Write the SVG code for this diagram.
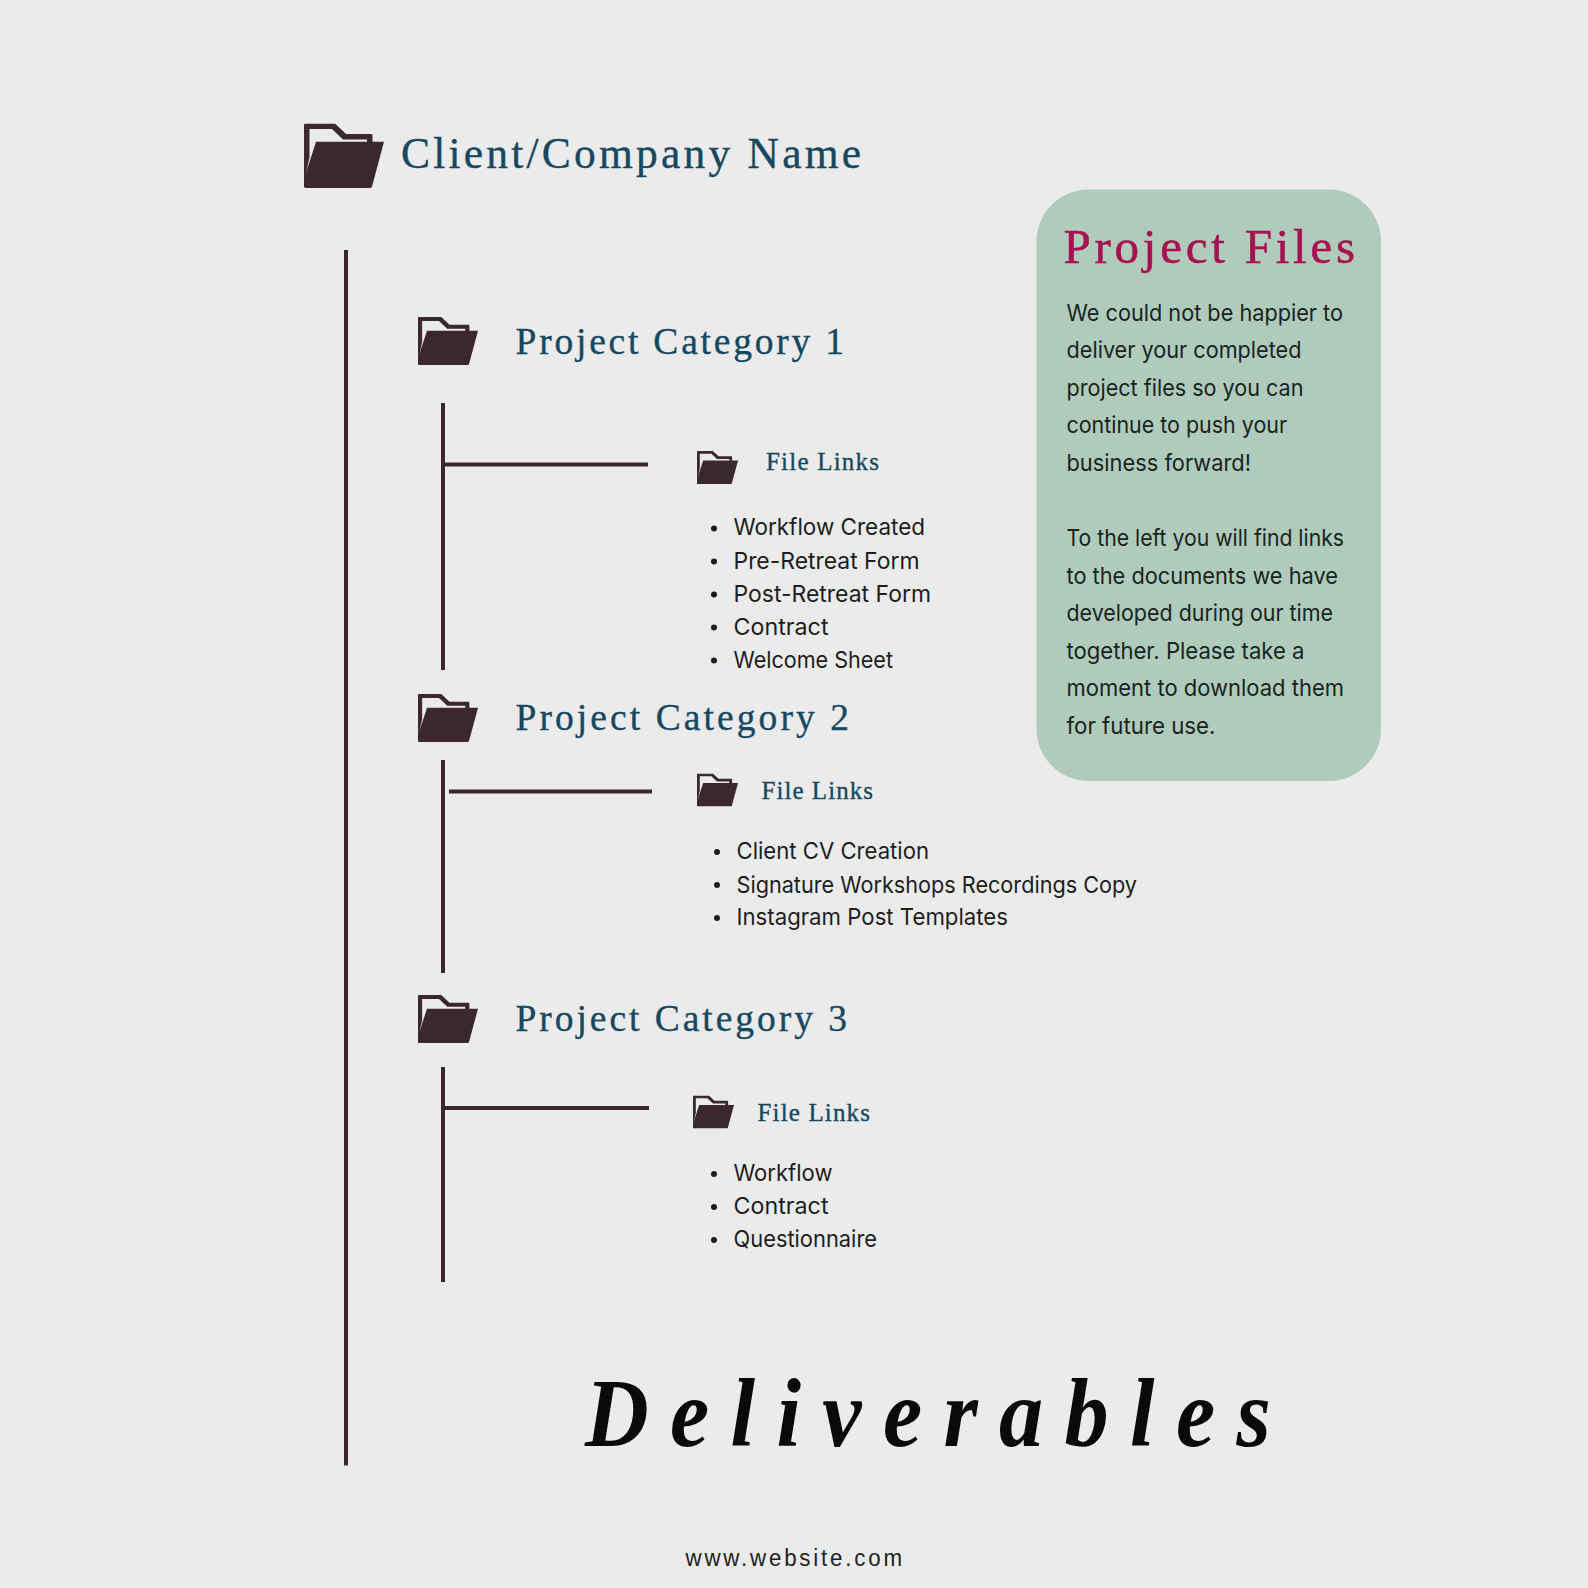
<svg xmlns="http://www.w3.org/2000/svg" width="1588" height="1588" viewBox="0 0 1588 1588">
<style>
.ln{stroke:#3a2730;stroke-width:4;fill:none}
.h{font-family:"Liberation Serif",serif;fill:#16485f;stroke:#16485f;stroke-width:.35}
.c{font-size:37.500px}
.f{font-size:25px}
.b{font-family:Inter,"Liberation Sans",sans-serif;font-size:23px;fill:#1d1d1d}
.p{font-family:Inter,"Liberation Sans",sans-serif;font-size:23px;fill:#17241f}
.d{fill:#1d1d1d}
</style>
<defs>
<symbol id="folder" viewBox="0 0 80 65" preserveAspectRatio="none">
<path fill="#3a2730" d="M0 1.500Q0 0 1.500 0H31L42 10.500H67Q68.500 10.500 68.500 12V19H63V16H39L28 5.500H5.500V34L0 60Z"/>
<path fill="#3a2730" d="M12 18.500H80L68 63.500Q67.500 65 66 65H1.500Q0 65 0 63.500V56Z"/>
</symbol>
</defs>
<rect width="1588" height="1588" fill="#ebebeb"/>
<g id="connectors">
<path class="ln" d="M346 250V1465.500"/>
<path class="ln" d="M443 403V670M444 464.500H648"/>
<path class="ln" d="M443 760V973M449 791.500H652"/>
<path class="ln" d="M443 1067V1282M444 1108H649"/>
</g>
<g id="root">
<use href="#folder" x="304" y="123.500" width="80" height="64.500"/>
<text class="h" x="401" y="167.500" font-size="43.500" textLength="460">Client/Company Name</text>
</g>
<g id="category-1">
<use href="#folder" x="418" y="317" width="60" height="48"/>
<text class="h c" x="515.500" y="354" textLength="328.500">Project Category 1</text>
</g>
<g id="links-1">
<use href="#folder" x="697" y="451" width="41" height="33"/>
<text class="h f" x="766" y="470" textLength="113">File Links</text>
<g class="d"><circle cx="714" cy="528.500" r="3"/><circle cx="714" cy="561.500" r="3"/><circle cx="714" cy="594.500" r="3"/><circle cx="714" cy="627.500" r="3"/><circle cx="714" cy="660.500" r="3"/></g>
<text class="b" x="733.500" y="535" textLength="191.500" lengthAdjust="spacingAndGlyphs">Workflow Created</text>
<text class="b" x="733.500" y="569" textLength="186" lengthAdjust="spacingAndGlyphs">Pre-Retreat Form</text>
<text class="b" x="733.500" y="602" textLength="197.500" lengthAdjust="spacingAndGlyphs">Post-Retreat Form</text>
<text class="b" x="733.500" y="635" textLength="95" lengthAdjust="spacingAndGlyphs">Contract</text>
<text class="b" x="733.500" y="668" textLength="159.500" lengthAdjust="spacingAndGlyphs">Welcome Sheet</text>
</g>
<g id="category-2">
<use href="#folder" x="418" y="694" width="60" height="48"/>
<text class="h c" x="515.500" y="730" textLength="333.500">Project Category 2</text>
</g>
<g id="links-2">
<use href="#folder" x="697" y="773.500" width="41" height="33"/>
<text class="h f" x="761.500" y="799" textLength="111.500">File Links</text>
<g class="d"><circle cx="717" cy="852" r="3"/><circle cx="717" cy="885" r="3"/><circle cx="717" cy="918" r="3"/></g>
<text class="b" x="736.500" y="858.500" textLength="192.500" lengthAdjust="spacingAndGlyphs">Client CV Creation</text>
<text class="b" x="736.500" y="892.500" textLength="400.500" lengthAdjust="spacingAndGlyphs">Signature Workshops Recordings Copy</text>
<text class="b" x="736.500" y="924.500" textLength="271.500" lengthAdjust="spacingAndGlyphs">Instagram Post Templates</text>
</g>
<g id="category-3">
<use href="#folder" x="418" y="995" width="60" height="48"/>
<text class="h c" x="515.500" y="1031" textLength="331.500">Project Category 3</text>
</g>
<g id="links-3">
<use href="#folder" x="693" y="1095.500" width="41" height="33"/>
<text class="h f" x="757.500" y="1121" textLength="112.500">File Links</text>
<g class="d"><circle cx="714" cy="1174" r="3"/><circle cx="714" cy="1207" r="3"/><circle cx="714" cy="1240" r="3"/></g>
<text class="b" x="733.500" y="1180.500" textLength="99" lengthAdjust="spacingAndGlyphs">Workflow</text>
<text class="b" x="733.500" y="1214" textLength="95" lengthAdjust="spacingAndGlyphs">Contract</text>
<text class="b" x="733.500" y="1247" textLength="143.500" lengthAdjust="spacingAndGlyphs">Questionnaire</text>
</g>
<g id="project-files">
<rect x="1036.500" y="189.500" width="344.500" height="591.500" rx="52" fill="#b0cbbb"/>
<text x="1063.500" y="262.500" font-family="Liberation Serif,serif" font-size="49" fill="#a6114f" stroke="#a6114f" stroke-width=".5" textLength="291.500">Project Files</text>
<text class="p" x="1066.500" y="320.500" textLength="276.500" lengthAdjust="spacingAndGlyphs">We could not be happier to</text>
<text class="p" x="1066.500" y="357.500" textLength="235" lengthAdjust="spacingAndGlyphs">deliver your completed</text>
<text class="p" x="1066.500" y="396" textLength="237" lengthAdjust="spacingAndGlyphs">project files so you can</text>
<text class="p" x="1066.500" y="432.500" textLength="220.500" lengthAdjust="spacingAndGlyphs">continue to push your</text>
<text class="p" x="1066.500" y="471" textLength="184.500" lengthAdjust="spacingAndGlyphs">business forward!</text>
<text class="p" x="1066.500" y="546" textLength="277.500" lengthAdjust="spacingAndGlyphs">To the left you will find links</text>
<text class="p" x="1066.500" y="584" textLength="271.500" lengthAdjust="spacingAndGlyphs">to the documents we have</text>
<text class="p" x="1066.500" y="620.500" textLength="266.500" lengthAdjust="spacingAndGlyphs">developed during our time</text>
<text class="p" x="1066.500" y="659" textLength="238" lengthAdjust="spacingAndGlyphs">together. Please take a</text>
<text class="p" x="1066.500" y="695.500" textLength="277.500" lengthAdjust="spacingAndGlyphs">moment to download them</text>
<text class="p" x="1066.500" y="734" textLength="149" lengthAdjust="spacingAndGlyphs">for future use.</text>
</g>
<g id="footer">
<text transform="translate(585 1446) scale(.9 1)" font-family="Liberation Serif,serif" font-style="italic" font-weight="bold" font-size="98" fill="#0a0a0a" textLength="762">Deliverables</text>
<text transform="translate(685.500 1565.500) scale(.95 1)" font-family="Liberation Sans,sans-serif" font-size="23.500" fill="#222" textLength="228">www.website.com</text>
</g>
</svg>
